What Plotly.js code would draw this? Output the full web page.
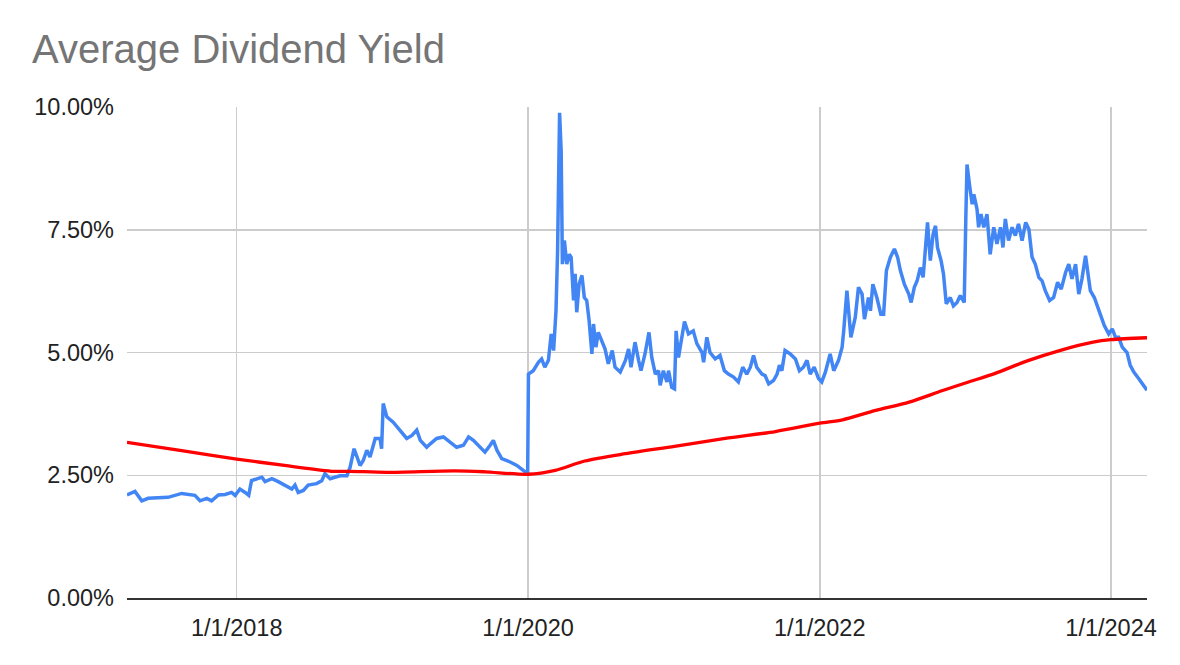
<!DOCTYPE html>
<html>
<head>
<meta charset="utf-8">
<script src="https://cdn.plot.ly/plotly-3.0.1.min.js"></script>
<style>
  html, body { margin: 0; padding: 0; background: #ffffff; }
  #chart { width: 1180px; height: 665px; }
</style>
</head>
<body>
<div id="chart"></div>
<script>
// ---- Data ----
const chartTitle = "Average Dividend Yield";

const blueDates = [
  "2017-04-01","2017-04-21","2017-05-08","2017-05-24","2017-06-18","2017-07-13","2017-08-16","2017-09-02","2017-09-18","2017-10-01",
  "2017-10-18","2017-10-30","2017-11-16","2017-12-03","2017-12-19","2017-12-28","2018-01-09","2018-01-22","2018-01-31","2018-02-07",
  "2018-02-20","2018-03-05","2018-03-13","2018-03-30","2018-04-15","2018-05-02","2018-05-19","2018-05-27","2018-06-04","2018-06-17",
  "2018-06-29","2018-07-20","2018-08-02","2018-08-10","2018-08-23","2018-09-04","2018-09-17","2018-10-04","2018-10-12","2018-10-22",
  "2018-10-29","2018-11-06","2018-11-14","2018-11-23","2018-12-01","2018-12-14","2018-12-26","2018-12-30","2019-01-03","2019-01-12",
  "2019-01-28","2019-02-14","2019-03-03","2019-03-16","2019-03-28","2019-04-06","2019-04-22","2019-05-01","2019-05-17","2019-06-03",
  "2019-06-20","2019-07-06","2019-07-23","2019-08-05","2019-08-17","2019-08-30","2019-09-15","2019-09-28","2019-10-06","2019-10-15",
  "2019-10-27","2019-11-17","2019-12-04","2019-12-20","2019-12-31","2020-01-02","2020-01-14","2020-01-27","2020-02-04","2020-02-12",
  "2020-02-21","2020-02-28","2020-03-05","2020-03-11","2020-03-15","2020-03-20","2020-03-24","2020-03-27","2020-04-01","2020-04-07",
  "2020-04-13","2020-04-18","2020-04-24","2020-04-28","2020-05-02","2020-05-08","2020-05-15","2020-05-21","2020-05-27","2020-06-02",
  "2020-06-09","2020-06-13","2020-06-19","2020-06-25","2020-07-04","2020-07-12","2020-07-20","2020-07-30","2020-08-06","2020-08-19",
  "2020-09-01","2020-09-09","2020-09-15","2020-09-25","2020-10-04","2020-10-10","2020-10-20","2020-10-30","2020-11-06","2020-11-15",
  "2020-11-23","2020-11-27","2020-12-05","2020-12-14","2020-12-18","2020-12-26","2021-01-02","2021-01-06","2021-01-12","2021-01-18",
  "2021-01-27","2021-02-06","2021-02-18","2021-02-27","2021-03-12","2021-03-16","2021-03-24","2021-04-01","2021-04-14","2021-04-26",
  "2021-05-07","2021-05-17","2021-05-30","2021-06-11","2021-06-22","2021-07-02","2021-07-11","2021-07-19","2021-07-27","2021-08-09",
  "2021-08-17","2021-08-26","2021-09-07","2021-09-16","2021-09-22","2021-09-28","2021-10-06","2021-10-19","2021-11-01","2021-11-11",
  "2021-11-21","2021-11-30","2021-12-08","2021-12-18","2021-12-29","2022-01-06","2022-01-15","2022-01-27","2022-02-05","2022-02-17",
  "2022-02-26","2022-03-02","2022-03-10","2022-03-20","2022-03-31","2022-04-08","2022-04-17","2022-04-23","2022-05-03","2022-05-08",
  "2022-05-14","2022-05-24","2022-06-03","2022-06-10","2022-06-17","2022-06-27","2022-07-07","2022-07-15","2022-07-22","2022-08-01",
  "2022-08-12","2022-08-18","2022-08-26","2022-09-02","2022-09-10","2022-09-17","2022-09-22","2022-09-28","2022-10-05","2022-10-12",
  "2022-10-18","2022-10-23","2022-11-01","2022-11-07","2022-11-14","2022-11-24","2022-12-02","2022-12-11","2022-12-19","2022-12-29",
  "2023-01-02","2023-01-05","2023-01-12","2023-01-18","2023-01-22","2023-01-30","2023-02-03","2023-02-09","2023-02-16","2023-02-24",
  "2023-03-04","2023-03-13","2023-03-21","2023-03-30","2023-04-05","2023-04-11","2023-04-19","2023-04-28","2023-05-06","2023-05-14",
  "2023-05-23","2023-06-01","2023-06-09","2023-06-17","2023-06-25","2023-07-04","2023-07-12","2023-07-20","2023-07-31","2023-08-10",
  "2023-08-20","2023-08-29","2023-09-09","2023-09-17","2023-09-25","2023-10-04","2023-10-12","2023-10-20","2023-10-29","2023-11-03",
  "2023-11-10","2023-11-20","2023-11-28","2023-12-07","2023-12-15","2023-12-26","2024-01-04","2024-01-12","2024-01-20","2024-01-29",
  "2024-02-10","2024-02-18","2024-02-27","2024-03-10","2024-03-23","2024-03-31"
];
const blueValues = [
  2.10,2.17,1.98,2.03,2.04,2.05,2.13,2.11,2.09,1.98,
  2.03,1.98,2.10,2.11,2.15,2.09,2.22,2.15,2.09,2.39,
  2.43,2.46,2.37,2.43,2.37,2.29,2.22,2.30,2.15,2.19,
  2.30,2.33,2.39,2.53,2.43,2.46,2.49,2.49,2.66,3.04,
  2.87,2.70,2.80,3.01,2.87,3.25,3.25,3.04,3.96,3.69,
  3.58,3.42,3.25,3.31,3.42,3.21,3.07,3.14,3.25,3.28,
  3.18,3.07,3.11,3.28,3.21,3.11,2.97,3.11,3.21,3.01,
  2.84,2.77,2.70,2.60,2.53,4.56,4.63,4.80,4.87,4.70,
  4.84,5.38,5.04,5.85,7.07,9.88,9.10,6.80,7.28,6.80,
  7.00,6.94,6.06,6.60,5.82,6.40,6.57,6.12,6.06,5.65,
  4.97,5.58,5.11,5.41,5.24,5.07,4.77,5.04,4.70,4.60,
  4.84,5.07,4.70,5.21,4.84,4.63,4.97,5.41,4.90,4.56,
  4.63,4.33,4.63,4.40,4.63,4.29,4.26,5.44,4.90,5.24,
  5.63,5.38,5.44,5.18,5.00,4.80,5.31,5.00,4.87,4.94,
  4.63,4.56,4.50,4.40,4.70,4.56,4.70,4.94,4.70,4.56,
  4.53,4.36,4.43,4.56,4.74,4.63,5.04,4.97,4.87,4.63,
  4.70,4.84,4.56,4.70,4.47,4.40,4.60,4.97,4.63,4.84,
  5.11,5.44,6.26,5.31,5.72,6.33,6.19,5.68,6.12,5.85,
  6.39,6.12,5.78,5.78,6.67,6.94,7.11,6.94,6.67,6.39,
  6.19,6.02,6.33,6.46,6.73,6.53,7.07,7.65,6.87,7.41,
  7.58,7.14,6.87,6.60,5.99,6.12,5.95,6.02,6.16,6.02,
  7.75,8.83,8.36,8.02,8.22,7.92,7.55,7.82,7.55,7.82,
  7.00,7.55,7.21,7.55,7.14,7.72,7.28,7.55,7.38,7.62,
  7.28,7.65,7.51,6.94,6.80,6.53,6.46,6.26,6.06,6.12,
  6.43,6.29,6.63,6.80,6.50,6.80,6.19,6.50,6.97,6.67,
  6.26,6.12,5.92,5.75,5.55,5.38,5.48,5.31,5.31,5.11,
  5.00,4.74,4.60,4.47,4.33,4.23
];

const redDates = [
  "2017-04-01","2017-08-16","2018-01-01","2018-05-01","2018-09-01","2018-10-12","2019-01-12","2019-07-01",
  "2019-09-15","2020-01-01","2020-03-09","2020-05-22","2020-09-01","2021-01-02","2021-05-09","2021-09-12",
  "2022-01-01","2022-02-27","2022-05-21","2022-08-13","2022-11-03","2023-01-05","2023-03-15",
  "2023-06-05","2023-08-25","2023-11-17","2024-01-01","2024-03-31"
];
const redValues = [
  3.17,3.00,2.83,2.70,2.58,2.58,2.56,2.59,
  2.57,2.52,2.60,2.79,2.94,3.09,3.25,3.39,
  3.56,3.63,3.82,3.99,4.22,4.39,4.57,
  4.83,5.04,5.21,5.26,5.30
];

const xTickDates = ["2018-01-01","2020-01-01","2022-01-01","2024-01-01"];
const xTickLabels = ["1/1/2018","1/1/2020","1/1/2022","1/1/2024"];
const yTickValues = [0, 2.5, 5, 7.5, 10];
const yTickLabels = ["0.00%","2.50%","5.00%","7.50%","10.00%"];
const xRange = ["2017-04-01","2024-03-31"];
const yRange = [0, 10];

// ---- Chart ----
const fontFam = "'Liberation Sans', Arial, Helvetica, sans-serif";

const traces = [
  {
    x: blueDates, y: blueValues, type: "scatter", mode: "lines",
    line: { color: "#4285F4", width: 3.5 }, hoverinfo: "skip"
  },
  {
    x: redDates, y: redValues, type: "scatter", mode: "lines",
    line: { color: "#FF0000", width: 3.3, shape: "spline", smoothing: 0.8 }, hoverinfo: "skip"
  }
];

const layout = {
  width: 1180, height: 665,
  paper_bgcolor: "#ffffff", plot_bgcolor: "#ffffff",
  margin: { l: 127, r: 33, t: 107, b: 67, pad: 0 },
  showlegend: false,
  font: { family: fontFam, color: "#222222" },
  title: {
    text: chartTitle,
    font: { family: fontFam, size: 40, color: "#757575" },
    xref: "container", yref: "container",
    x: 32 / 1180, xanchor: "left",
    y: 1 - 35 / 665, yanchor: "top"
  },
  xaxis: {
    type: "date", range: xRange,
    tickmode: "array", tickvals: xTickDates, ticktext: xTickLabels,
    showgrid: true, gridcolor: "#cccccc", gridwidth: 1.5,
    showline: true, linecolor: "#333333", linewidth: 2,
    zeroline: false, ticks: "", ticklabelstandoff: 8,
    tickfont: { family: fontFam, size: 23.5, color: "#222222" }
  },
  yaxis: {
    range: yRange,
    tickmode: "array", tickvals: yTickValues, ticktext: yTickLabels,
    showgrid: true, gridcolor: "#cccccc", gridwidth: 1.5,
    showline: false, zeroline: false, ticks: "", ticklabelstandoff: 12,
    tickfont: { family: fontFam, size: 23.5, color: "#222222" }
  }
};

Plotly.newPlot("chart", traces, layout, { staticPlot: true, displayModeBar: false });
</script>
</body>
</html>
